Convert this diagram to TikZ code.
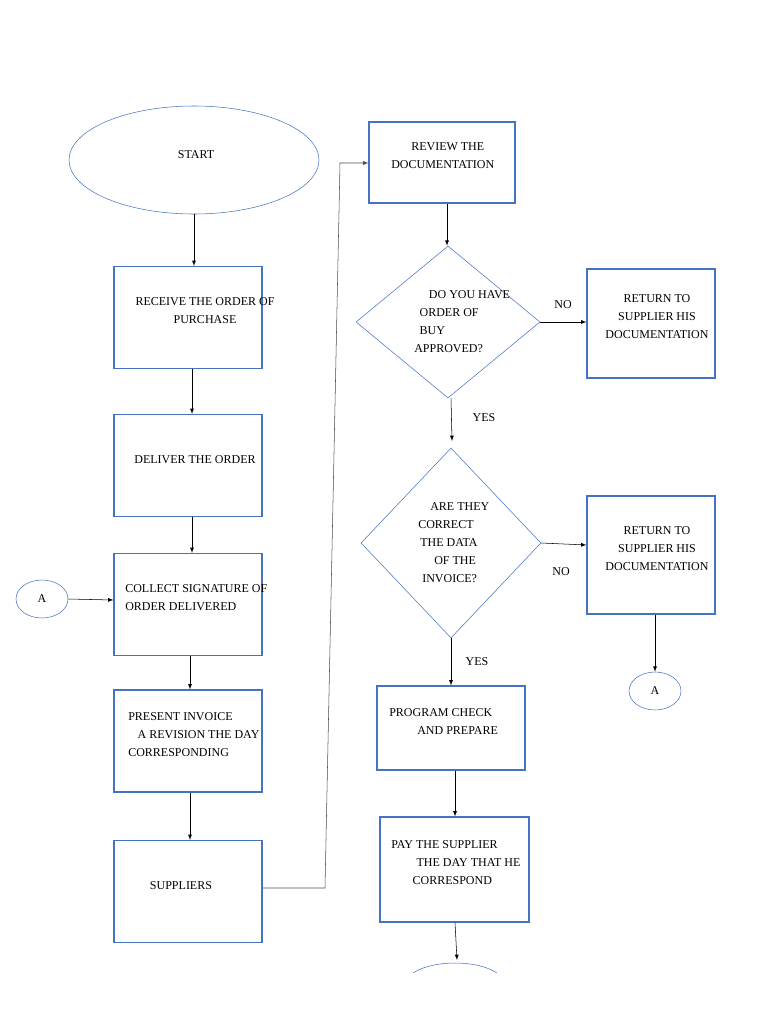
\documentclass[tikz,border=0pt]{standalone}
\usepackage{fontspec}
\setmainfont{Liberation Serif}
\usetikzlibrary{shapes.geometric}
\definecolor{boxblue}{RGB}{68,114,196}
\tikzset{
  box/.style={draw=boxblue, thick, minimum width=111pt, minimum height=76.5pt, inner sep=0pt},
  dia/.style={draw=boxblue, diamond, inner sep=0pt, aspect=1},
  oval/.style={draw=boxblue, ellipse, inner sep=0pt},
  txt/.style={font=\fontsize{9}{13.5}\selectfont, inner sep=0pt},
  arr/.style={-latex, black, thin},
}
\begin{document}
\begin{tikzpicture}[x=0.75pt, y=-0.75pt]
  \useasboundingbox (0,0) rectangle (768,1024);
  % left column
  \node [oval, minimum width=187.5pt, minimum height=81pt] (start) at (194,160) {};
  \node [box] (recv) at (188,317.5) {};
  \node [box] (deliv) at (188,465.5) {};
  \node [box] (coll) at (188,604.5) {};
  \node [box] (pres) at (188,741) {};
  \node [box] (supp) at (188,891.5) {};
  \node [oval, minimum width=39pt, minimum height=28.5pt] (al) at (42,599) {};
  % right column
  \node [box, minimum width=109.5pt, minimum height=60.75pt] (rev) at (442,162.5) {};
  \node [dia, minimum width=138pt, minimum height=114pt] (d1) at (448,322) {};
  \node [box, minimum width=96pt, minimum height=81.75pt] (ret1) at (651,323.5) {};
  \node [dia, minimum width=135pt, minimum height=142.5pt] (d2) at (451,543) {};
  \node [box, minimum width=96pt, minimum height=88.5pt] (ret2) at (651,555) {};
  \node [oval, minimum width=39pt, minimum height=28.5pt] (ar) at (655,691) {};
  \node [box, minimum width=111pt, minimum height=63pt] (prog) at (451,728) {};
  \node [box, minimum width=111.75pt, minimum height=78.75pt] (pay) at (454.5,869.5) {};
  \begin{scope}
    \clip (0,0) rectangle (768,972);
    \node [oval, minimum width=75pt, minimum height=33pt] (end) at (455,985) {};
  \end{scope}
  % texts
  \node [txt] (tstart) at (196,155) {START};
  \node [txt, align=center] (trecv) at (205,311) {RECEIVE THE ORDER OF\\PURCHASE};
  \node [txt] (tdeliv) at (195,460) {DELIVER THE ORDER};
  \node [txt, anchor=west, align=left] (tcoll) at (125,598) {COLLECT SIGNATURE OF\\ORDER DELIVERED};
  \node [txt, anchor=west, align=left] (tpres) at (128,735) {PRESENT INVOICE\\\hspace*{7pt}A REVISION THE DAY\\CORRESPONDING};
  \node [txt] (tsupp) at (181,886) {SUPPLIERS};
  \node [txt] (tal) at (42,599) {A};
  \node [txt, anchor=west, align=left] (trev) at (391,156) {\hspace*{15pt}REVIEW THE\\DOCUMENTATION};
  \node [txt, anchor=west, align=left] (td1) at (414,322) {\hspace*{11pt}DO YOU HAVE\\\hspace*{4pt}ORDER OF\\\hspace*{4pt}BUY\\APPROVED?};
  \node [txt, align=center] (tret1) at (657,317) {RETURN TO\\SUPPLIER HIS\\DOCUMENTATION};
  \node [txt, anchor=west, align=left] (td2) at (418,543) {\hspace*{9pt}ARE THEY\\CORRECT\\\hspace*{1.5pt}THE DATA\\\hspace*{12pt}OF THE\\\hspace*{3pt}INVOICE?};
  \node [txt, align=center] (tret2) at (657,549) {RETURN TO\\SUPPLIER HIS\\DOCUMENTATION};
  \node [txt] (tar) at (655,691) {A};
  \node [txt, anchor=west, align=left] (tprog) at (389,722) {PROGRAM CHECK\\\hspace*{21pt}AND PREPARE};
  \node [txt, anchor=west, align=left] (tpay) at (391,863) {PAY THE SUPPLIER\\\hspace*{19pt}THE DAY THAT HE\\\hspace*{16pt}CORRESPOND};
  \node [txt] (no1) at (563,305) {NO};
  \node [txt] (yes1) at (484,418) {YES};
  \node [txt] (no2) at (561,572) {NO};
  \node [txt] (yes2) at (477,662) {YES};
  % connectors
  \draw [arr] (start.south) -- (recv.north -| start.south);
  \draw [arr] (recv.south) ++(4,0) coordinate (r1) -- (r1 |- deliv.north);
  \draw [arr] (deliv.south) ++(4,0) coordinate (r2) -- (r2 |- coll.north);
  \draw [arr] (coll.south) ++(2,0) coordinate (r3) -- (r3 |- pres.north);
  \draw [arr] (pres.south) ++(2,0) coordinate (r4) -- (r4 |- supp.north);
  \draw [arr] (al.east) -- (coll.west |- 0,600);
  \coordinate (k1) at (325,888);
  \coordinate (k2) at (340,163);
  \draw [arr, gray!60!black] (supp.east |- k1) -- (k1) -- (k2) -- (rev.west |- k2);
  \draw [arr] (rev.south) ++(5,0) coordinate (r5) -- (r5 |- d1.north);
  \draw [arr] (d1.east) -- (ret1.west |- d1.east);
  \draw [arr] (d1.south) ++(3,0) coordinate (r6) -- (452,441);
  \draw [arr] (d2.east) -- (ret2.west |- 0,545);
  \draw [arr] (d2.south) -- (d2.south |- prog.north);
  \draw [arr] (ret2.south) ++(4,0) coordinate (r7) -- (ar.north);
  \draw [arr] (prog.south) ++(4,0) coordinate (r8) -- (r8 |- pay.north);
  \draw [arr] (pay.south) ++(0.5,0) coordinate (r9) -- (457,960);
\end{tikzpicture}
\end{document}
